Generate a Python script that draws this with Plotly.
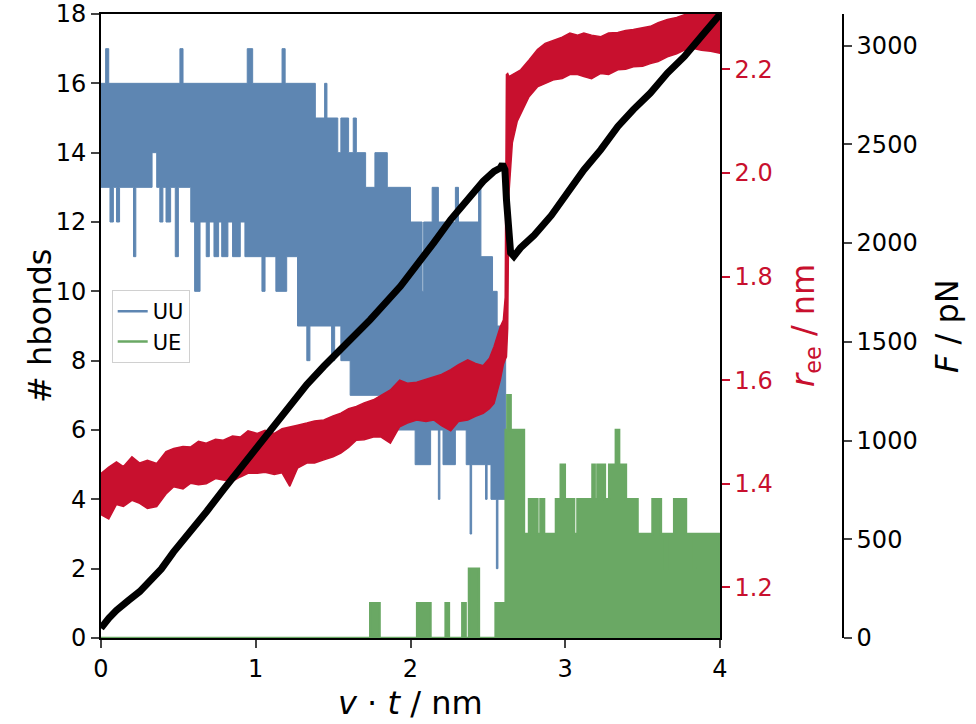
import plotly.graph_objects as go

# ---------------- data ----------------
# UU hydrogen bonds: min / max envelope of the stepped signal (value holds until next x)
uu_hi_x = [0.0, 0.03, 0.05, 0.51, 0.53, 0.945, 0.98, 1.17, 1.19, 1.385, 1.445, 1.46, 1.53, 1.55,
           1.60, 1.63, 1.65, 1.71, 1.77, 1.85, 2.00, 2.075, 2.085, 2.14, 2.18, 2.29, 2.31, 2.44,
           2.455, 2.53, 2.56]
uu_hi = [16, 17, 16, 17, 16, 17, 16, 17, 16, 15, 16, 15, 14, 15, 14, 15, 14, 13, 14, 13, 12, 10,
         12, 13, 12, 13, 12, 13, 11, 10, 9]
uu_lo_x = [0.0, 0.058, 0.08, 0.10, 0.12, 0.21, 0.225, 0.33, 0.36, 0.38, 0.40, 0.42, 0.45, 0.48,
           0.50, 0.58, 0.605, 0.64, 0.68, 0.70, 0.73, 0.76, 0.78, 0.82, 0.85, 0.90, 0.93, 1.04,
           1.06, 1.13, 1.20, 1.27, 1.33, 1.35, 1.49, 1.51, 1.55, 1.61, 1.88, 2.03, 2.13, 2.18,
           2.19, 2.21, 2.29, 2.36, 2.385, 2.395, 2.485, 2.495, 2.52, 2.555, 2.565]
uu_lo = [13, 12, 13, 12, 13, 11, 13, 14, 13, 12, 13, 12, 13, 11, 13, 12, 10, 12, 11, 12, 11, 12,
         11, 12, 11, 12, 11, 10, 11, 10, 11, 9, 8, 9, 8, 9, 8, 7, 6, 5, 6, 4, 6, 5, 6, 5, 3, 5,
         4, 5, 4, 2, 4]
uu_end = 2.615

# UE hydrogen bonds: upper envelope (lower envelope is 0)
ue_x = [0.0, 1.74, 1.80, 2.043, 2.129, 2.227, 2.248, 2.335, 2.356, 2.378, 2.442, 2.55, 2.615,
        2.626, 2.647, 2.733, 2.766, 2.82, 2.84, 2.863, 2.94, 2.971, 2.997, 3.057, 3.079, 3.176,
        3.19, 3.208, 3.256, 3.284, 3.327, 3.348, 3.392, 3.467, 3.564, 3.618, 3.644, 3.657,
        3.704, 3.78, 3.83, 3.843]
ue_hi = [0, 1, 0, 1, 0, 1, 0, 1, 0, 2, 0, 1, 6, 7, 6, 3, 4, 3, 4, 3, 4, 5, 4, 3, 4, 5, 4, 5, 4,
         5, 6, 5, 4, 3, 4, 3, 2, 3, 4, 3, 2, 3]
ue_end = 4.0

# end-to-end distance r_ee (nm): upper / lower edge of the noisy band
ree_x = [0.00, 0.05, 0.10, 0.145, 0.20, 0.25, 0.30, 0.36, 0.42, 0.47, 0.53, 0.58, 0.63, 0.68,
         0.74, 0.79, 0.85, 0.90, 0.95, 1.01, 1.06, 1.12, 1.17, 1.22, 1.27, 1.33, 1.38, 1.44,
         1.50, 1.55, 1.60, 1.65, 1.70, 1.76, 1.81, 1.87, 1.93, 1.98, 2.04, 2.10, 2.15, 2.20,
         2.26, 2.31, 2.37, 2.42, 2.47, 2.51, 2.54, 2.58, 2.60, 2.612, 2.62, 2.628, 2.636,
         2.658, 2.69, 2.712, 2.766, 2.82, 2.87, 2.928, 2.98, 3.03, 3.08, 3.12, 3.17, 3.23,
         3.28, 3.34, 3.39, 3.44, 3.50, 3.55, 3.60, 3.66, 3.72, 3.77, 3.83, 3.88, 3.94, 4.00]
ree_top = [1.420, 1.432, 1.442, 1.433, 1.452, 1.440, 1.445, 1.439, 1.462, 1.468, 1.472, 1.471,
           1.482, 1.478, 1.486, 1.484, 1.492, 1.490, 1.502, 1.497, 1.503, 1.497, 1.506, 1.510,
           1.513, 1.517, 1.521, 1.523, 1.531, 1.536, 1.545, 1.549, 1.556, 1.562, 1.571, 1.581,
           1.600, 1.594, 1.596, 1.602, 1.607, 1.611, 1.620, 1.630, 1.639, 1.632, 1.628, 1.642,
           1.665, 1.703, 1.716, 1.760, 2.190, 2.192, 2.186, 2.190, 2.195, 2.199, 2.218, 2.238,
           2.250, 2.257, 2.262, 2.270, 2.266, 2.270, 2.266, 2.263, 2.270, 2.271, 2.275, 2.277,
           2.280, 2.283, 2.290, 2.296, 2.300, 2.306, 2.312, 2.316, 2.316, 2.316]
ree_bot = [1.340, 1.332, 1.360, 1.356, 1.368, 1.362, 1.352, 1.356, 1.380, 1.394, 1.390, 1.401,
           1.398, 1.400, 1.410, 1.407, 1.405, 1.413, 1.420, 1.420, 1.422, 1.418, 1.421, 1.395,
           1.430, 1.440, 1.440, 1.446, 1.452, 1.459, 1.470, 1.484, 1.485, 1.490, 1.490, 1.478,
           1.510, 1.517, 1.523, 1.520, 1.523, 1.512, 1.502, 1.520, 1.523, 1.530, 1.536, 1.545,
           1.555, 1.600, 1.630, 1.640, 1.645, 1.700, 1.960, 2.058, 2.100, 2.115, 2.147, 2.166,
           2.172, 2.180, 2.182, 2.190, 2.190, 2.186, 2.182, 2.192, 2.190, 2.199, 2.200, 2.205,
           2.206, 2.211, 2.215, 2.224, 2.230, 2.237, 2.240, 2.237, 2.235, 2.231]

# pulling force F (pN)
f_x = [0.00, 0.015, 0.05, 0.10, 0.145, 0.177, 0.25, 0.30, 0.36, 0.39, 0.468, 0.576, 0.684,
       0.79, 0.90, 1.01, 1.115, 1.22, 1.33, 1.44, 1.55, 1.65, 1.74, 1.935, 2.04, 2.15, 2.26,
       2.37, 2.47, 2.54, 2.58, 2.594, 2.61, 2.62, 2.63, 2.647, 2.668, 2.71, 2.80, 2.91, 3.01,
       3.12, 3.23, 3.34, 3.44, 3.55, 3.66, 3.77, 3.88, 3.98, 4.00]
f_val = [50, 68, 100, 140, 165, 190, 235, 275, 320, 350, 435, 533, 642, 750, 858, 968, 1072,
         1185, 1283, 1376, 1461, 1545, 1612, 1781, 1882, 2001, 2119, 2220, 2313, 2363, 2380,
         2400, 2372, 2220, 2052, 1951, 1933, 1975, 2040, 2140, 2250, 2370, 2473, 2591, 2676,
         2760, 2861, 2945, 3047, 3140, 3158]

# tick labels
x_ticks = [0, 1, 2, 3, 4]
hb_ticks = [0, 2, 4, 6, 8, 10, 12, 14, 16, 18]
ree_ticks = [1.2, 1.4, 1.6, 1.8, 2.0, 2.2]
f_ticks = [0, 500, 1000, 1500, 2000, 2500, 3000]

# ---------------- styling ----------------
BLUE = "#5e86b2"
GREEN = "#6aa864"
RED = "#c8102e"
FONT = "DejaVu Sans"


def steps(xs, vs, x_end):
    px, py = [], []
    for i, (x, v) in enumerate(zip(xs, vs)):
        x2 = xs[i + 1] if i + 1 < len(xs) else x_end
        px += [x, x2]
        py += [v, v]
    return px, py


fig = go.Figure()

# UU band
hx, hy = steps(uu_hi_x, uu_hi, uu_end)
lx, ly = steps(uu_lo_x, uu_lo, uu_end)
fig.add_trace(go.Scatter(x=hx + lx[::-1], y=hy + ly[::-1], fill="toself", fillcolor=BLUE,
                         mode="lines", line=dict(color=BLUE, width=1), showlegend=False,
                         hoverinfo="skip", xaxis="x", yaxis="y"))
# UE band
ux, uy = steps(ue_x, ue_hi, ue_end)
fig.add_trace(go.Scatter(x=ux + [ue_end, 0.0], y=uy + [0, 0], fill="toself", fillcolor=GREEN,
                         mode="lines", line=dict(color=GREEN, width=2.5), showlegend=False,
                         hoverinfo="skip", xaxis="x", yaxis="y"))
# legend entries
fig.add_trace(go.Scatter(x=[None], y=[None], mode="lines", name="UU",
                         line=dict(color=BLUE, width=2.5), xaxis="x", yaxis="y"))
fig.add_trace(go.Scatter(x=[None], y=[None], mode="lines", name="UE",
                         line=dict(color=GREEN, width=2.5), xaxis="x", yaxis="y"))
# r_ee band
fig.add_trace(go.Scatter(x=ree_x + ree_x[::-1], y=ree_top + ree_bot[::-1], fill="toself",
                         fillcolor=RED, mode="lines", line=dict(color=RED, width=1.5),
                         showlegend=False, hoverinfo="skip", xaxis="x", yaxis="y2"))
# force
fig.add_trace(go.Scatter(x=f_x, y=f_val, mode="lines", line=dict(color="black", width=7),
                         showlegend=False, hoverinfo="skip", xaxis="x", yaxis="y3"))

L, R, T, B = 101, 133, 14, 86
W, H = 976, 724
pw = W - L - R
ph = H - T - B
xdom_end = (720 - L) / pw

axis_common = dict(showgrid=False, zeroline=False, showline=True, linecolor="black",
                   linewidth=1.6, ticks="outside", ticklen=8, tickwidth=1.6,
                   automargin=False,
                   tickfont=dict(family=FONT, size=24, color="black"))

fig.update_layout(
    width=W, height=H,
    margin=dict(l=L, r=R, t=T, b=B, autoexpand=False),
    paper_bgcolor="white", plot_bgcolor="white",
    font=dict(family=FONT, color="black"),
    xaxis=dict(domain=[0, xdom_end], range=[0, 4], tickvals=x_ticks, mirror=True,
               **axis_common),
    yaxis=dict(range=[0, 18], tickvals=hb_ticks, **axis_common),
    yaxis2=dict(overlaying="y", side="right", anchor="x", range=[1.1021, 2.3068],
                tickvals=ree_ticks, tickformat=".1f",
                **{**axis_common, "tickcolor": RED,
                   "tickfont": dict(family=FONT, size=24, color=RED)}),
    yaxis3=dict(overlaying="y", side="right", anchor="free", position=1.0,
                range=[0, 3160], tickvals=f_ticks, **axis_common),
    legend=dict(x=(111.7 - L) / pw, y=(638 - 290) / ph, xanchor="left", yanchor="top",
                bgcolor="rgba(255,255,255,0.85)", bordercolor="#d0d0d0", borderwidth=1,
                entrywidth=72, entrywidthmode="pixels",
                font=dict(family=FONT, size=21, color="black")),
    annotations=[
        dict(text="# hbonds", xref="paper", yref="paper", x=(40 - L) / pw, y=0.5,
             textangle=-90, showarrow=False, xanchor="center", yanchor="middle",
             font=dict(family=FONT, size=32, color="black")),
        dict(text="<i>v</i> · <i>t</i> / nm", xref="paper", yref="paper",
             x=(410.5 - L) / pw, y=(638 - 703) / ph, showarrow=False,
             xanchor="center", yanchor="middle",
             font=dict(family=FONT, size=32, color="black")),
        dict(text="<i>r</i><sub>ee</sub> / nm", xref="paper", yref="paper",
             x=(805 - L) / pw, y=0.5, textangle=-90, showarrow=False,
             xanchor="center", yanchor="middle",
             font=dict(family=FONT, size=32, color=RED)),
        dict(text="<i>F</i> / pN", xref="paper", yref="paper",
             x=(947 - L) / pw, y=0.5, textangle=-90, showarrow=False,
             xanchor="center", yanchor="middle",
             font=dict(family=FONT, size=32, color="black")),
    ],
)

fig.write_html("out.html")
